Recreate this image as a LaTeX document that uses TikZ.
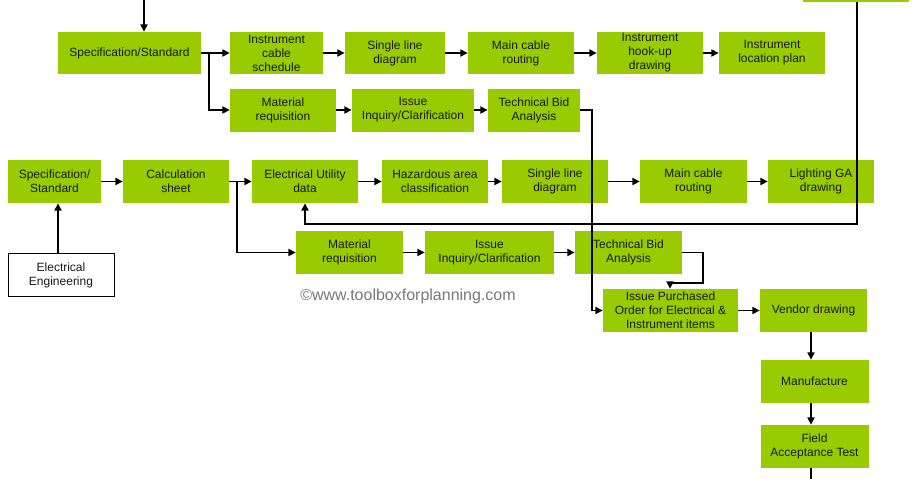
\documentclass[tikz,border=0pt]{standalone}
\usepackage{fontspec}
\setmainfont{Liberation Sans}
\usetikzlibrary{arrows.meta}
\definecolor{gr}{RGB}{153,204,0}
\definecolor{wm}{RGB}{120,120,120}
\newcommand\mybox[6]{\node[#1, minimum width=#4pt, minimum height=#5pt] (#2) at #3 {#6};}
\begin{document}
\begin{tikzpicture}[x=1pt,y=-1pt,
 gbox/.style={fill=gr, inner sep=0pt, align=center, font=\fontsize{12}{14}\selectfont, text=black!90},
 wbox/.style={gbox, fill=white, draw=black, line width=0.8pt},
 conn/.style={line width=1.8pt, -{Triangle[length=7.5pt,width=7pt]}},
 plainline/.style={line width=1.8pt}]
\useasboundingbox (0,0) rectangle (914,479);
\clip (0,0) rectangle (914,479);
% top row
\mybox{gbox}{s1}{(129.5,53)}{143}{42}{Specification/Standard}
\mybox{gbox}{icab}{(276.5,53)}{93}{42}{Instrument\\cable\\schedule}
\mybox{gbox}{sld1}{(395,53)}{100}{42}{Single line\\diagram}
\mybox{gbox}{mcr1}{(521,53)}{106}{42}{Main cable\\routing}
\mybox{gbox}{hook}{(650,53)}{106}{42}{Instrument\\hook-up\\drawing}
\mybox{gbox}{iloc}{(772,53)}{106}{42}{Instrument\\location plan}
% second row
\mybox{gbox}{mr1}{(283,110)}{106}{43}{Material\\requisition}
\mybox{gbox}{iic1}{(413,110)}{122}{43}{Issue\\Inquiry/Clarification}
\mybox{gbox}{tba1}{(534,110)}{92}{43}{Technical Bid\\Analysis}
% third row
\mybox{gbox}{s2}{(54.5,181.5)}{93}{43}{Specification/\\Standard}
\mybox{gbox}{calc}{(176,181.5)}{106}{43}{Calculation\\sheet}
\mybox{gbox}{eud}{(305,181.5)}{106}{43}{Electrical Utility\\data}
\mybox{gbox}{haz}{(435,181.5)}{106}{43}{Hazardous area\\classification}
\mybox{gbox}{sld2}{(555,181.5)}{106}{43}{Single line\\diagram}
\mybox{gbox}{mcr2}{(693.5,181.5)}{107}{43}{Main cable\\routing}
\mybox{gbox}{lga}{(821,181.5)}{106}{43}{Lighting GA\\drawing}
% fourth row
\mybox{gbox}{mr2}{(349.5,252.5)}{107}{43}{Material\\requisition}
\mybox{gbox}{iic2}{(489.5,252.5)}{129}{43}{Issue\\Inquiry/Clarification}
\mybox{gbox}{tba2}{(628.5,252.5)}{107}{43}{Technical Bid\\Analysis}
\mybox{wbox}{ee}{(61,275)}{106}{43}{Electrical\\Engineering}
% lower right
\mybox{gbox}{ipo}{(670.5,310.5)}{135}{43}{Issue Purchased\\Order for Electrical \&\\Instrument items}
\mybox{gbox}{vend}{(813.5,310.5)}{107}{43}{Vendor drawing}
\mybox{gbox}{manu}{(814.5,381.5)}{108}{43}{Manufacture}
\mybox{gbox}{fat}{(814.5,446.5)}{108}{43}{Field\\Acceptance Test}
% partial box at top right
\mybox{gbox}{topr}{(856,-19)}{106}{42}{}
% watermark
\node[text=wm, font=\fontsize{16}{18}\selectfont] (wmk) at (408,296) {©www.toolboxforplanning.com};
% coordinates
\coordinate (intop) at (144,0);
\coordinate (b1) at (209,53);
\coordinate (b2) at (237,181.5);
\coordinate (r1) at (592,110);
\coordinate (r2) at (592,310.5);
\coordinate (t1) at (703,252.5);
\coordinate (t2) at (703,283);
\coordinate (t3) at (670,283);
\coordinate (v1) at (857,224);
\coordinate (v2) at (305,224);
\coordinate (eea) at (58,253);
\coordinate (fout) at (811,485);
% connectors
\draw[conn] (intop) -- (intop |- s1.north);
\draw[conn] (s1.east) -- (icab.west);
\draw[conn] (b1) |- (mr1.west);
\draw[conn] (icab) -- (sld1);
\draw[conn] (sld1) -- (mcr1);
\draw[conn] (mcr1) -- (hook);
\draw[conn] (hook) -- (iloc);
\draw[conn] (mr1) -- (iic1);
\draw[conn] (iic1) -- (tba1);
\draw[conn] (tba1.east) -- (r1) -- (r2) -- (ipo.west);
\draw[conn] (s2) -- (calc);
\draw[conn] (calc) -- (eud);
\draw[conn] (b2) |- (mr2.west);
\draw[conn] (eud) -- (haz);
\draw[conn] (haz) -- (sld2);
\draw[conn] (sld2) -- (mcr2);
\draw[conn] (mcr2) -- (lga);
\draw[conn] (mr2) -- (iic2);
\draw[conn] (iic2) -- (tba2);
\draw[conn] (tba2.east) -- (t1) -- (t2) -- (t3) -- (t3 |- ipo.north);
\draw[conn] (eea) -- (eea |- s2.south);
\draw[conn] (topr.south -| v1) -- (v1) -- (v2) -- (eud.south);
\draw[conn] (ipo) -- (vend);
\draw[conn] (vend.south -| fout) -- (fout |- manu.north);
\draw[conn] (manu.south -| fout) -- (fout |- fat.north);
\draw[plainline] (fat.south -| fout) -- (fout);
\end{tikzpicture}
\end{document}
